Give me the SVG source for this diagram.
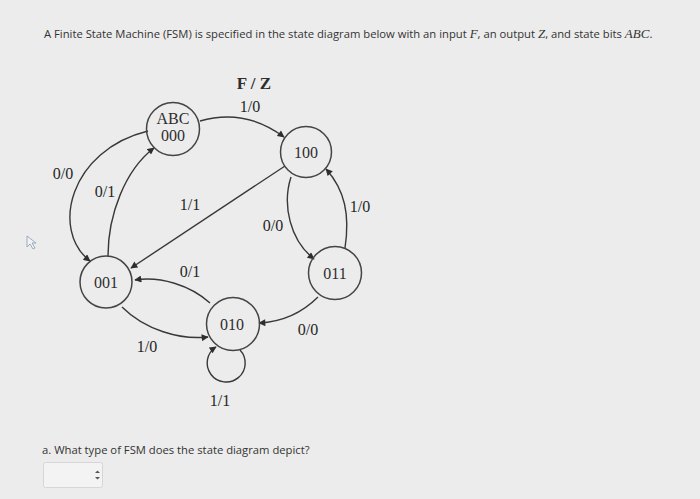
<svg xmlns="http://www.w3.org/2000/svg" width="700" height="499" viewBox="0 0 700 499">
<style>
.st{fill:none;stroke:#444;stroke-width:1.5}
.ed{fill:none;stroke:#383838;stroke-width:1.4}
.nl{font-family:"Liberation Serif",serif;font-size:16px;fill:#2e2e2e;text-anchor:middle}
.el{font-family:"Liberation Serif",serif;font-size:16px;fill:#262626;text-anchor:middle}
.hd{font-family:"Open Sans","Liberation Sans",sans-serif;font-size:11.25px;fill:#333}
.it{font-family:"Liberation Serif",serif;font-style:italic;font-size:13px}
</style>
<defs>
<marker id="ah" viewBox="0 0 10 10" refX="9" refY="5" markerWidth="8" markerHeight="7" orient="auto" markerUnits="userSpaceOnUse">
<path d="M0,0 L10,5 L0,10 z" fill="#2e2e2e"/>
</marker>
</defs>
<rect width="700" height="499" fill="#ececec"/>
<text class="hd" x="44" y="38">A Finite State Machine (FSM) is specified in the state diagram below with an input <tspan class="it">F</tspan>, an output <tspan class="it">Z</tspan>, and state bits <tspan class="it">ABC</tspan>.</text>

<text x="254" y="89" font-family="Liberation Serif,serif" font-size="17" font-weight="bold" fill="#2e2e2e" text-anchor="middle">F / Z</text>

<g id="connectors">
<path class="ed" d="M200,121 Q245,108 284,137" marker-end="url(#ah)"/>
<path class="ed" d="M148,131 C70,150 50,230 90,261" marker-end="url(#ah)"/>
<path class="ed" d="M108,256 C108,215 125,170 154,148" marker-end="url(#ah)"/>
<path class="ed" d="M285,166 L131,268" marker-end="url(#ah)"/>
<path class="ed" d="M291,177 C282,205 290,240 314,259" marker-end="url(#ah)"/>
<path class="ed" d="M345,248 C350,215 345,190 326,169" marker-end="url(#ah)"/>
<path class="ed" d="M318,297 C300,315 280,322 259,323" marker-end="url(#ah)"/>
<path class="ed" d="M210,303 C190,285 160,276 135,280" marker-end="url(#ah)"/>
<path class="ed" d="M122,307 C145,330 180,340 208,337" marker-end="url(#ah)"/>
<path class="ed" d="M240,350 A19,19 0 1 1 216,347" marker-end="url(#ah)"/>
<text class="el" x="250" y="112">1/0</text>
<text class="el" x="63" y="179">0/0</text>
<text class="el" x="105" y="197">0/1</text>
<text class="el" x="190" y="210">1/1</text>
<text class="el" x="273" y="231">0/0</text>
<text class="el" x="360" y="212">1/0</text>
<text class="el" x="190" y="277">0/1</text>
<text class="el" x="308" y="335">0/0</text>
<text class="el" x="147" y="352">1/0</text>
<text class="el" x="220" y="406">1/1</text>
</g>

<g id="s000">
<circle class="st" cx="173" cy="129" r="26.5"/>
<text class="nl" x="173" y="124" font-size="14">ABC</text>
<text class="nl" x="173" y="141" font-size="17">000</text>
</g>
<g id="s100">
<circle class="st" cx="306" cy="152" r="25.5"/>
<text class="nl" x="306" y="158">100</text>
</g>
<g id="s011">
<circle class="st" cx="335" cy="273" r="26.5"/>
<text class="nl" x="335" y="279">011</text>
</g>
<g id="s001">
<circle class="st" cx="106" cy="282" r="26"/>
<text class="nl" x="106" y="288">001</text>
</g>
<g id="s010">
<circle class="st" cx="233" cy="324" r="26.5"/>
<text class="nl" x="232" y="330">010</text>
</g>

<path d="M27,236 L27,247 L30,244 L33,249 L35,248 L32,243 L36,243 Z" fill="#f2f2f2" stroke="#8a9ab0" stroke-width="0.8"/>

<text class="hd" x="42" y="454" font-size="11.1">a. What type of FSM does the state diagram depict?</text>
<rect x="43.5" y="462.5" width="59" height="25" rx="2" fill="#f3f3f3" stroke="#d6d6d6"/>
<path d="M95,473 L97.5,470.5 L100,473 Z M95,477 L97.5,479.5 L100,477 Z" fill="#555"/>
</svg>
